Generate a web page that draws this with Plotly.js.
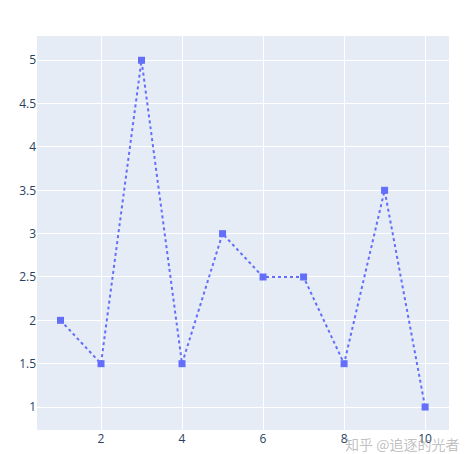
<!DOCTYPE html>
<html>
<head>
<meta charset="utf-8">
<script src="https://cdn.plot.ly/plotly-3.0.1.min.js"></script>
<style>html,body{margin:0;padding:0;background:#fff;}</style>
</head>
<body>
<div id="chart" style="width:474px;height:454px;"></div>
<script>
var xValues = [1, 2, 3, 4, 5, 6, 7, 8, 9, 10];
var yValues = [2, 1.5, 5, 1.5, 3, 2.5, 2.5, 1.5, 3.5, 1];
var watermark = "知乎 @追逐的光者";

var trace = {
  x: xValues,
  y: yValues,
  type: "scatter",
  mode: "lines+markers",
  line: {dash: "dot", width: 2, color: "#636efa"},
  marker: {symbol: "square", size: 7, color: "#636efa"}
};

var layout = {
  width: 474,
  height: 454,
  margin: {l: 37, r: 25, t: 36, b: 24},
  paper_bgcolor: "#ffffff",
  plot_bgcolor: "#e5ecf6",
  font: {family: "Open Sans, Verdana, Arial, sans-serif", size: 12, color: "#2a3f5f"},
  showlegend: false,
  xaxis: {
    range: [0.42, 10.59],
    gridcolor: "#ffffff",
    zeroline: false,
    dtick: 2,
    tick0: 0,
    ticks: ""
  },
  yaxis: {
    range: [0.735, 5.28],
    gridcolor: "#ffffff",
    zeroline: false,
    dtick: 0.5,
    ticks: ""
  },
  annotations: [{
    text: watermark,
    xref: "paper", yref: "paper",
    x: 1.03, y: -0.005,
    xanchor: "right", yanchor: "top",
    showarrow: false,
    font: {family: "Noto Sans CJK SC", size: 14, color: "rgba(150,150,150,0.6)"}
  }]
};

Plotly.newPlot("chart", [trace], layout, {displayModeBar: false});
</script>
</body>
</html>
